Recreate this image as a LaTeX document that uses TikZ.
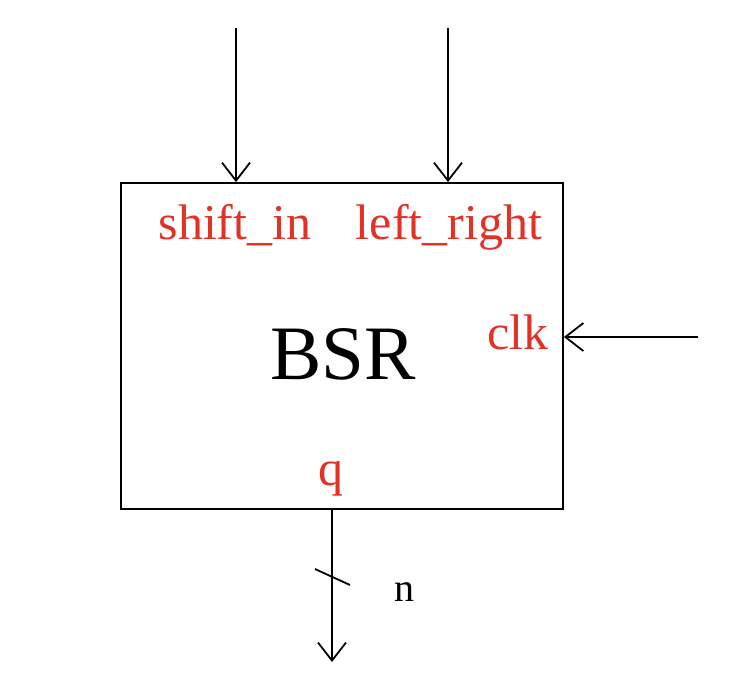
\documentclass[tikz,border=0pt]{standalone}
\usepackage{fontspec}
\setmainfont{Liberation Serif}
\usetikzlibrary{arrows.meta}
\definecolor{lblred}{RGB}{226,50,38}
\begin{document}
\begin{tikzpicture}[x=1pt,y=-1pt,line width=1.8pt,
  arr/.style={-{Straight Barb[length=18pt,width=28pt,line width=1.8pt]}},
  port/.style={text=lblred,font=\fontsize{50}{54}\selectfont,inner sep=0pt,anchor=base},
  lbl/.style={font=\fontsize{40}{44}\selectfont,inner sep=0pt,anchor=base}]
\useasboundingbox (0,0) rectangle (736,678);
\node[draw,minimum width=442pt,minimum height=326pt,inner sep=0pt,line width=1.8pt] (box) at (342,346) {};
\node[font=\fontsize{77}{80}\selectfont,inner sep=0pt,anchor=base] (bsr) at (343,379) {BSR};
\coordinate (a) at (236,28);
\coordinate (b) at (448,28);
\coordinate (c) at (698,337);
\coordinate (d) at (332,662);
\draw[arr] (a) -- (a |- box.north);
\draw[arr] (b) -- (b |- box.north);
\draw[arr] (c) -- (box.east |- c);
\draw[arr] (d |- box.south) -- (d);
\coordinate (s1) at (315,569);
\coordinate (s2) at (350,585);
\draw (s1) -- (s2);
\node[port] (p1) at (235,239) {shift\_in};
\node[port] (p2) at (449,239) {left\_right};
\node[port] (p3) at (518,349) {clk};
\node[port] (p4) at (331,485) {q};
\node[lbl] (n) at (404,601) {n};
\end{tikzpicture}
\end{document}
